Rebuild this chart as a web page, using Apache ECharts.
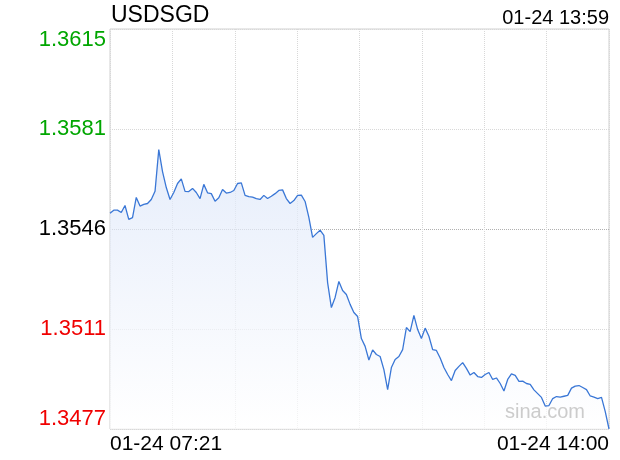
<!DOCTYPE html>
<html>
<head>
<meta charset="utf-8">
<title>USDSGD</title>
<script src="https://cdn.jsdelivr.net/npm/echarts@6/dist/echarts.min.js"></script>
<style>
    html, body { margin: 0; padding: 0; background: #fff; }
    #chart { width: 620px; height: 460px; }
</style>
</head>
<body>
<div id="chart"></div>
<script>
// symbol + timestamps
const symbol = 'USDSGD';
const dateText = '01-24';
const lastTime = '01-24 13:59';

// 3-minute samples, 07:21 -> 14:00
const startMinute = 7 * 60 + 21;
const stepMinutes = 3;
const times = [];
for (let m = startMinute; m <= 14 * 60; m += stepMinutes) {
    times.push(String(Math.floor(m / 60)).padStart(2, '0') + ':' + String(m % 60).padStart(2, '0'));
}

const prices = [
    1.35514, 1.35525, 1.35525, 1.35517, 1.35541, 1.35493, 1.35499, 1.35569, 1.35539, 1.35545,
    1.35548, 1.35562, 1.35590, 1.35734, 1.35658, 1.35603, 1.35562, 1.35586, 1.35617, 1.35633,
    1.35590, 1.35589, 1.35600, 1.35586, 1.35565, 1.35614, 1.35585, 1.35582, 1.35556, 1.35568,
    1.35596, 1.35584, 1.35586, 1.35593, 1.35617, 1.35619, 1.35576, 1.35572, 1.35570, 1.35565,
    1.35562, 1.35576, 1.35565, 1.35573, 1.35582, 1.35593, 1.35595, 1.35565, 1.35548, 1.35558,
    1.35576, 1.35577, 1.35555, 1.35500, 1.35431, 1.35444, 1.35456, 1.35438, 1.35275, 1.35189,
    1.35224, 1.35279, 1.35248, 1.35234, 1.35200, 1.35172, 1.35158, 1.35082, 1.35055, 1.35008,
    1.35043, 1.35027, 1.35020, 1.34975, 1.34906, 1.34982, 1.35010, 1.35020, 1.35044, 1.35120,
    1.35106, 1.35162, 1.35113, 1.35082, 1.35118, 1.35090, 1.35044, 1.35041, 1.35015, 1.34982,
    1.34958, 1.34937, 1.34972, 1.34986, 1.34999, 1.34979, 1.34956, 1.34965, 1.34951, 1.34948,
    1.34958, 1.34965, 1.34941, 1.34946, 1.34927, 1.34901, 1.34941, 1.34960, 1.34955, 1.34934,
    1.34935, 1.34927, 1.34924, 1.34905, 1.34892, 1.34879, 1.34849, 1.34851, 1.34875, 1.34882,
    1.34880, 1.34883, 1.34886, 1.34911, 1.34918, 1.34920, 1.34913, 1.34906, 1.34884, 1.34880,
    1.34875, 1.34879, 1.34830, 1.34770
];

// y ticks, bottom -> top (prev close in the middle)
const yTicks = [1.3477, 1.35115, 1.3546, 1.35805, 1.3615];
const yLabels = ['1.3477', '1.3511', '1.3546', '1.3581', '1.3615'];
const yColors = ['#f00000', '#f00000', '#000000', '#00a600', '#00a600'];

// which tick a label value belongs to
function tickIndex(v) {
    const n = parseFloat(v);
    let best = 0;
    for (let i = 1; i < yTicks.length; i++) {
        if (Math.abs(yTicks[i] - n) < Math.abs(yTicks[best] - n)) best = i;
    }
    return best;
}

const font = '"Liberation Sans", Arial, Helvetica, sans-serif';
const chart = echarts.init(document.getElementById('chart'));

chart.setOption({
    animation: false,
    backgroundColor: '#fff',
    textStyle: { fontFamily: font },
    title: [
        {
            text: symbol,
            left: 111, top: 4, padding: 0,
            textStyle: { fontSize: 23, fontWeight: 'normal', color: '#000', fontFamily: font }
        },
        {
            text: lastTime,
            right: 11, top: 8, padding: 0,
            textStyle: { fontSize: 20, fontWeight: 'normal', color: '#000', fontFamily: font }
        },
        {
            text: 'sina.com',
            right: 35, top: 402, padding: 0,
            textStyle: { fontSize: 20, fontWeight: 'normal', color: '#cccccc', fontFamily: font }
        }
    ],
    grid: {
        left: 110, right: 11, top: 29, bottom: 31,
        show: true,
        borderColor: '#d0d0d0',
        borderWidth: 1,
        backgroundColor: 'transparent'
    },
    xAxis: [
        {
            type: 'category',
            data: times,
            boundaryGap: false,
            axisLine: { show: false },
            axisTick: { show: false },
            splitLine: { show: false },
            axisLabel: {
                interval: (index) => index === 0 || index === times.length - 1,
                formatter: (v) => dateText + ' ' + v,
                alignMinLabel: 'left',
                alignMaxLabel: 'right',
                margin: 5,
                fontSize: 21,
                color: '#000',
                fontFamily: font
            }
        },
        {
            // only for the 8 vertical grid lines
            type: 'value',
            min: 0, max: 8, interval: 1,
            axisLine: { show: false },
            axisTick: { show: false },
            axisLabel: { show: false },
            splitLine: { show: true, lineStyle: { color: '#d8d8d8', type: 'dotted', width: 1 } }
        }
    ],
    yAxis: {
        type: 'value',
        min: yTicks[0],
        max: yTicks[yTicks.length - 1],
        axisLine: { show: false },
        axisTick: { show: false, customValues: yTicks },
        axisLabel: {
            customValues: yTicks,
            margin: 4,
            fontSize: 22,
            lineHeight: 21,
            fontFamily: font,
            color: (v) => yColors[tickIndex(v)],
            formatter: (v) => {
                const i = tickIndex(v);
                if (i === 0) return yLabels[i] + '\n';
                if (i === yLabels.length - 1) return '\n' + yLabels[i];
                return yLabels[i];
            }
        },
        splitLine: {
            show: true,
            lineStyle: {
                color: ['#d8d8d8', '#d8d8d8', '#b0b0b0', '#d8d8d8', '#d8d8d8'],
                type: 'dotted',
                width: 1
            }
        }
    },
    series: [
        {
            type: 'line',
            data: prices,
            showSymbol: false,
            symbol: 'none',
            lineStyle: { color: '#3a77d6', width: 1.3 },
            areaStyle: {
                color: new echarts.graphic.LinearGradient(0, 0, 0, 1, [
                    { offset: 0, color: '#dce6f9' },
                    { offset: 1, color: '#ffffff' }
                ])
            }
        }
    ]
});
</script>
</body>
</html>
